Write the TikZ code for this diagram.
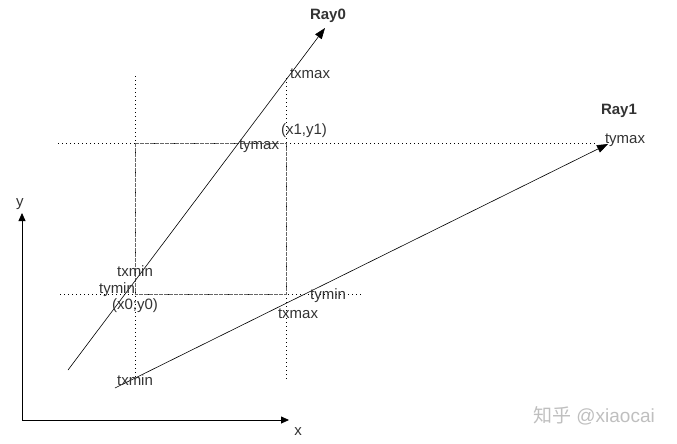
\documentclass[tikz,border=0pt]{standalone}
\usepackage{fontspec}
\setmainfont{Liberation Sans}
\newfontfamily\cjkfont{Noto Sans CJK SC}
\usetikzlibrary{arrows.meta}
\begin{document}
\begin{tikzpicture}[x=1pt,y=-1pt,
  lbl/.style={inner sep=0pt,text=black!80,font=\fontsize{15}{18}\selectfont},
  raylbl/.style={lbl,font=\fontsize{15}{18}\selectfont\bfseries},
  guide/.style={black,line width=0.7pt,dash pattern=on 1pt off 3pt},
  slab/.style={black!60,line width=0.6pt,dash pattern=on 4pt off 1pt},
  ray/.style={black,line width=0.6pt,-{Triangle[length=11pt,width=8pt]}},
  axis/.style={black,line width=0.8pt,-{Triangle[length=8pt,width=7pt]}}]
\useasboundingbox (0,0) rectangle (677,444);
% dotted guide lines
\draw[guide] (135,76) -- (135,378);
\draw[guide] (286,78) -- (286,380);
\draw[guide] (58,143) -- (595,143);
\draw[guide] (60,294) -- (363,294);
% the box
\draw[slab] (135,143) rectangle (286,294);
% axes
\coordinate (o) at (22,420);
\coordinate (ytip) at (22,213);
\coordinate (xtip) at (289,420);
\draw[axis] (o) -- (ytip);
\draw[axis] (o) -- (xtip);
\node[lbl] (ylab) at (20,204) {y};
\node[lbl] (xlab) at (298,432) {x};
% rays
\coordinate (r0s) at (68,370);
\coordinate (r0e) at (325,28);
\coordinate (r1s) at (115,388);
\coordinate (r1e) at (608,144);
\draw[ray] (r0s) -- (r0e);
\draw[ray] (r1s) -- (r1e);
\node[raylbl] (ray0) at (328,16) {Ray0};
\node[raylbl] (ray1) at (619,111) {Ray1};
% annotations
\node[lbl] (txmaxa) at (310,74) {txmax};
\node[lbl] (corner1) at (304,131) {(x1,y1)};
\node[lbl] (tymaxa) at (259,146) {tymax};
\node[lbl] (tymaxb) at (625,140) {tymax};
\node[lbl] (txmina) at (135,271) {txmin};
\node[lbl] (tymina) at (117,290) {tymin};
\node[lbl] (corner0) at (135,306) {(x0;y0)};
\node[lbl] (tyminb) at (328,296) {tymin};
\node[lbl] (txmaxb) at (298,314) {txmax};
\node[lbl] (txminb) at (135,380) {txmin};
% watermark
\node[inner sep=0pt,text=black!25,font=\fontsize{19}{22}\selectfont] (mark) at (594,416) {{\cjkfont 知乎} @xiaocai};
\end{tikzpicture}
\end{document}
